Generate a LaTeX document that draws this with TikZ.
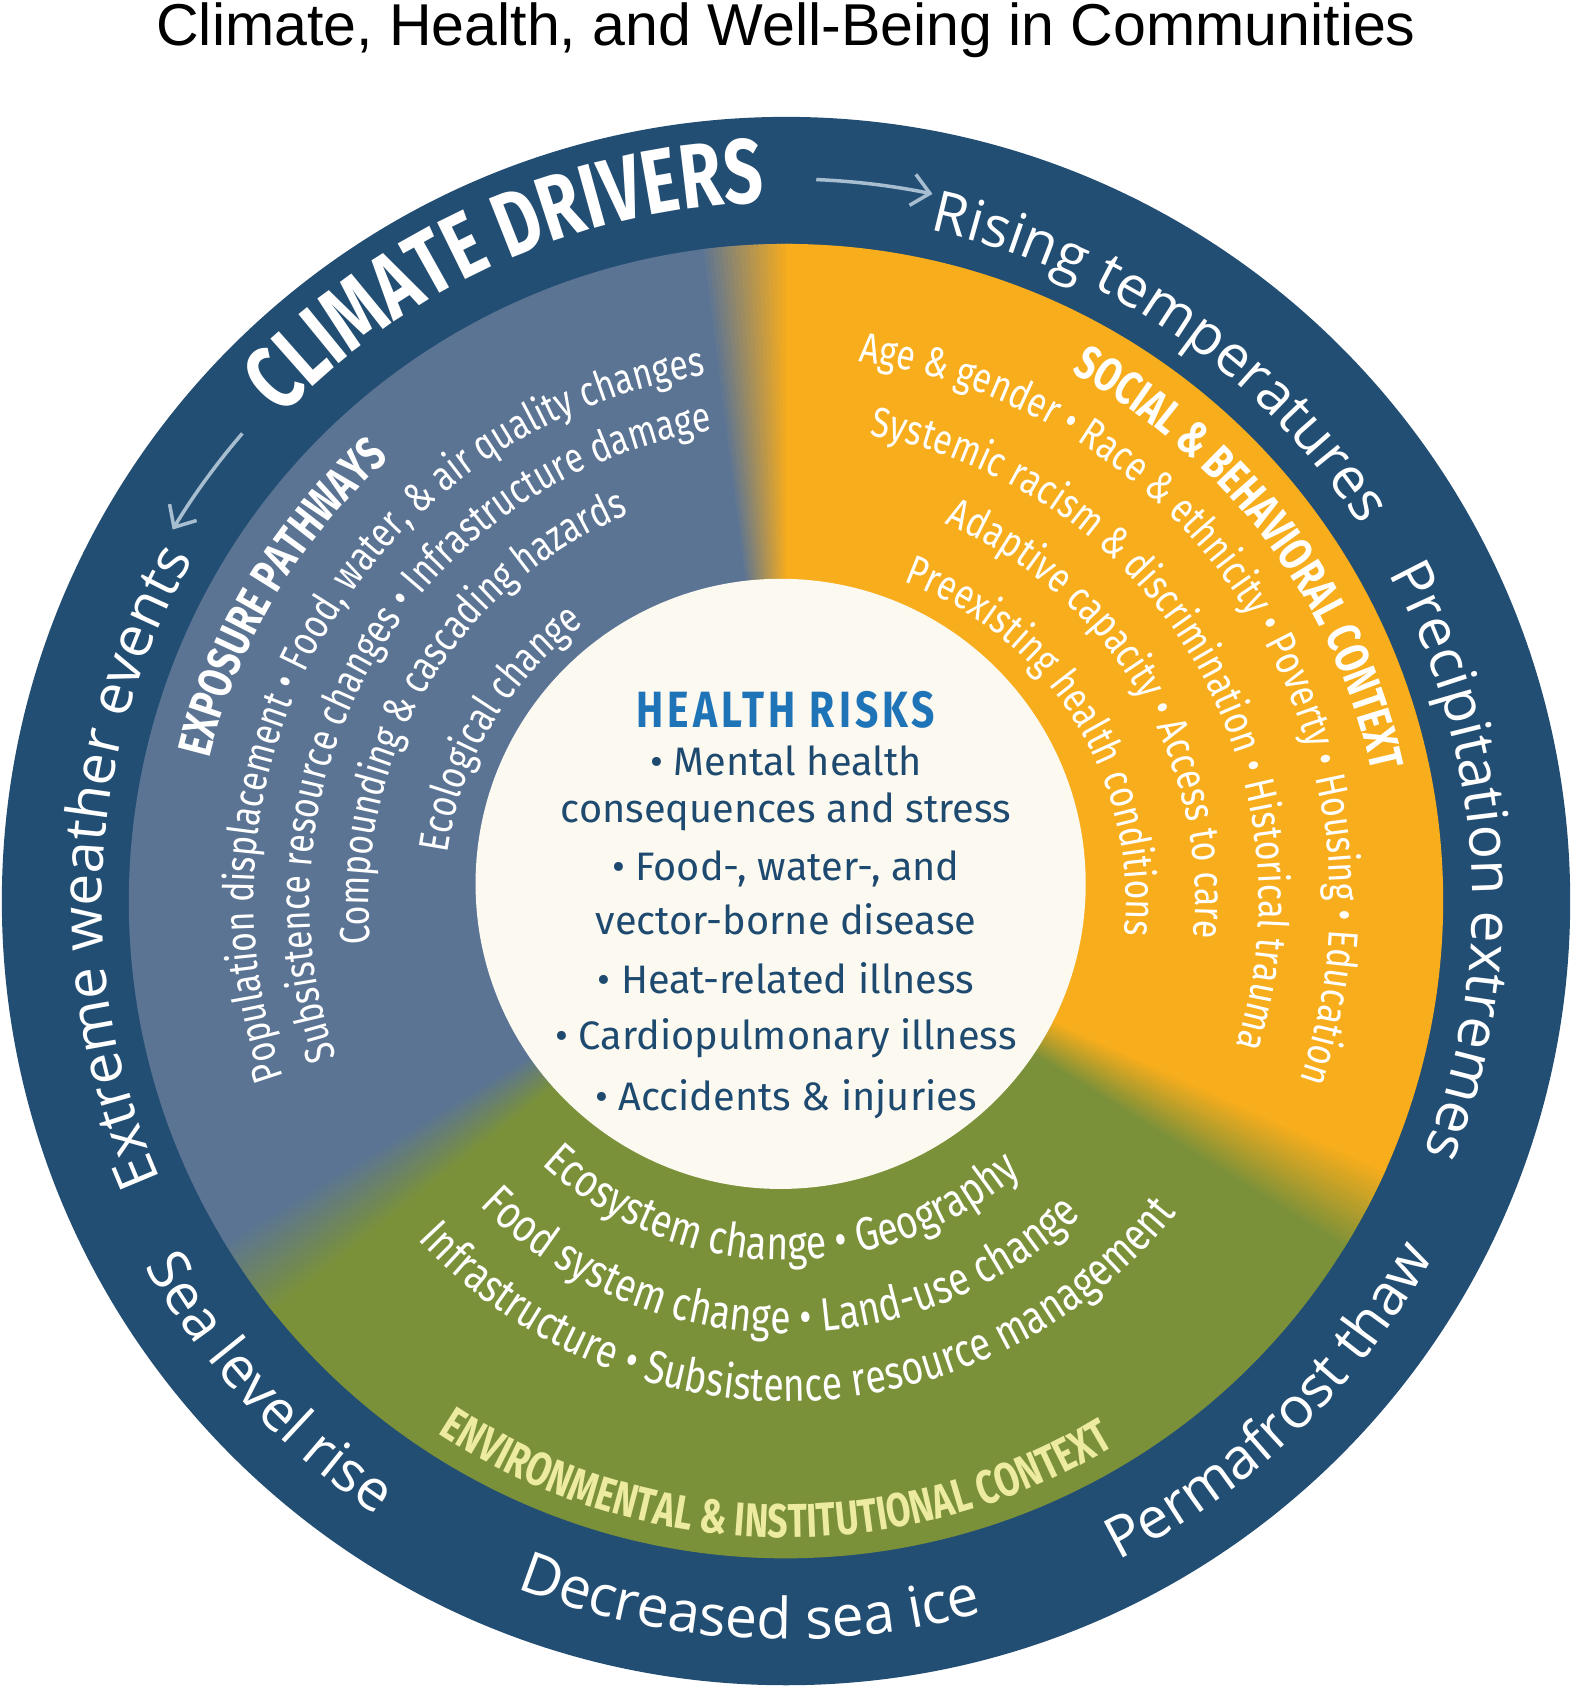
\documentclass[tikz,border=0pt]{standalone}
\usepackage{fontspec}
\usetikzlibrary{decorations.text,arrows.meta}
\newfontfamily\titlefont{Liberation Sans}
\newfontfamily\ringfont{Open Sans}
\newfontfamily\condfont{Fira Sans}[FakeStretch=0.8]
\newfontfamily\hrfont{Fira Sans}
\newfontfamily\headfont{Fira Sans}[FakeStretch=0.75,UprightFont=* Bold]
\newfontfamily\hrhead{Fira Sans}[FakeStretch=0.8,UprightFont=* Bold,LetterSpace=8]
\definecolor{navy}{HTML}{234E73}
\definecolor{bluec}{HTML}{5B7494}
\definecolor{orangec}{HTML}{F8AD1C}
\definecolor{greenc}{HTML}{7B9139}
\definecolor{whitec}{HTML}{FCF9F1}
\definecolor{envyel}{HTML}{EDEBA0}
\definecolor{hrtext}{HTML}{1E4A70}
\definecolor{hrblue}{HTML}{1F74B8}
\definecolor{arrowc}{HTML}{A7BED0}
\tikzset{
  ring/.style={decorate,decoration={text along path,text align=center,text color=white,
     text={|\ringfont\fontsize{16.2}{16}\selectfont|#1}}},
  inner/.style={decorate,decoration={text along path,text align=center,text color=white,
     text={|\condfont\fontsize{12}{12}\selectfont|#1}}},
  greentxt/.style={decorate,decoration={text along path,text align=center,text color=white,
     text={|\condfont\fontsize{13.3}{13}\selectfont|#1}}},
  head/.style={decorate,decoration={text along path,text align=center,text color=white,
     text={|\headfont\fontsize{13.5}{13}\selectfont|#1}}},
  hr/.style={text=hrtext,font=\hrfont\fontsize{11.3}{13}\selectfont,inner sep=0},
  arr/.style={draw=arrowc,line width=1pt,-{Straight Barb[length=5pt,width=9pt]}}
}
\begin{document}
\begin{tikzpicture}
\useasboundingbox (-7.8585,-7.8475) rectangle (7.8585,9.0085);
\node[font=\titlefont\fontsize{16.8}{19}\selectfont] (title) at (0,8.71) {Climate, Health, and Well-Being in Communities};
% rings
\fill[navy] (0,0) circle[radius=7.84];
\fill[orangec] (0,0) -- (90:6.57) arc[start angle=90,end angle=-28,radius=6.57] -- cycle;
\fill[greenc] (0,0) -- (-28:6.57) arc[start angle=-28,end angle=-145,radius=6.57] -- cycle;
\fill[bluec] (0,0) -- (215:6.57) arc[start angle=215,end angle=90,radius=6.57] -- cycle;
% blends
\foreach \i in {0,...,19}{
  \pgfmathsetmacro\p{100*\i/19}
  \pgfmathsetmacro\a{97.6-\i*0.4}
  \fill[orangec!\p!bluec] (0,0) -- (\a:6.57) arc[start angle=\a,end angle=\a-0.5,radius=6.57] -- cycle;
  \pgfmathsetmacro\b{-24-\i*0.4}
  \fill[greenc!\p!orangec] (0,0) -- (\b:6.57) arc[start angle=\b,end angle=\b-0.5,radius=6.57] -- cycle;
  \pgfmathsetmacro\c{-141-\i*0.4}
  \fill[bluec!\p!greenc] (0,0) -- (\c:6.57) arc[start angle=\c,end angle=\c-0.5,radius=6.57] -- cycle;
}
% outer ring text
\path[decorate,decoration={text along path,text align=center,text color=white,
  text={|\headfont\fontsize{26}{26}\selectfont|CLIMATE DRIVERS}}]
  (150:6.99) arc[start angle=150,end angle=78,radius=6.99];
\path[ring={Rising temperatures}] (85.5:6.86) arc[start angle=85.5,end angle=25.5,radius=6.86];
\path[ring={Precipitation extremes}] (38:6.86) arc[start angle=38,end angle=-31,radius=6.86];
\path[ring={Extreme weather events}] (212:6.84) arc[start angle=212,end angle=142,radius=6.84];
\path[ring={Sea level rise}] (200:7.38) arc[start angle=200,end angle=246,radius=7.38];
\path[ring={Decreased sea ice}] (242:7.38) arc[start angle=242,end angle=292,radius=7.38];
\path[ring={Permafrost thaw}] (290:7.38) arc[start angle=290,end angle=338,radius=7.38];
% arrows
\coordinate (a1s) at (87.6:7.22); \coordinate (a2s) at (139.3:7.17);
\draw[arr] (a1s) arc[start angle=87.6,end angle=78.3,radius=7.22];
\draw[arr] (a2s) arc[start angle=139.3,end angle=148.8,radius=7.17];
% blue sector
\path[head={EXPOSURE PATHWAYS}] (219:5.94) arc[start angle=219,end angle=79,radius=5.94];
\path[inner={Population displacement • Food, water, {\&} air quality changes}] (219:5.32) arc[start angle=219,end angle=79,radius=5.32];
\path[inner={Subsistence resource changes • Infrastructure damage}] (219:4.76) arc[start angle=219,end angle=79,radius=4.76];
\path[inner={Compounding {\&} cascading hazards}] (219:4.17) arc[start angle=219,end angle=79,radius=4.17];
\path[inner={Ecological change}] (219:3.42) arc[start angle=219,end angle=79,radius=3.42];
% orange sector
\path[head={SOCIAL {\&} BEHAVIORAL CONTEXT}] (112:6.0) arc[start angle=112,end angle=-38,radius=6.0];
\path[inner={Age {\&} gender • Race {\&} ethnicity • Poverty • Housing • Education}] (106.6:5.44) arc[start angle=106.6,end angle=-43.4,radius=5.44];
\path[inner={Systemic racism {\&} discrimination • Historical trauma}] (106:4.73) arc[start angle=106,end angle=-44,radius=4.73];
\path[inner={Adaptive capacity • Access to care}] (106:4.09) arc[start angle=106,end angle=-44,radius=4.09];
\path[inner={Preexisting health conditions}] (107:3.40) arc[start angle=107,end angle=-43,radius=3.40];
% green sector
\path[greentxt={Ecosystem change • Geography}] (199:3.59) arc[start angle=199,end angle=339,radius=3.59];
\path[greentxt={Food system change • Land-use change}] (199:4.32) arc[start angle=199,end angle=339,radius=4.32];
\path[greentxt={Infrastructure • Subsistence resource management}] (202:5.0) arc[start angle=202,end angle=342,radius=5.0];
\path[decorate,decoration={text along path,text align=center,text color=envyel,
  text={|\headfont\fontsize{13.5}{13}\selectfont|ENVIRONMENTAL {\&} INSTITUTIONAL CONTEXT}}]
  (199:6.36) arc[start angle=199,end angle=339,radius=6.36];
% health risks
\node[circle,fill=whitec,minimum size=6.1cm,inner sep=0] (hrc) at (-0.054,0.172) {};
\node[text=hrblue,font=\hrhead\fontsize{14.5}{15}\selectfont,inner sep=0] (hrt) at (0,1.91) {HEALTH RISKS};
\node[hr] (h1) at (0,1.40) {• Mental health};
\node[hr] (h2) at (0,0.89) {consequences and stress};
\node[hr] (h3) at (0,0.32) {• Food-, water-, and};
\node[hr] (h4) at (0,-0.18) {vector-borne disease};
\node[hr] (h5) at (0,-0.77) {• Heat-related illness};
\node[hr] (h6) at (0,-1.37) {• Cardiopulmonary illness};
\node[hr] (h7) at (0,-1.98) {• Accidents {\&} injuries};
\end{tikzpicture}
\end{document}
